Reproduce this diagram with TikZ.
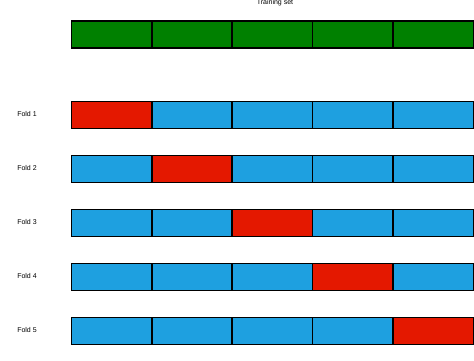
\documentclass[tikz,border=0pt]{standalone}
\usepackage{fontspec}
\setmainfont{Liberation Sans}
\definecolor{cgreen}{RGB}{0,128,0}
\definecolor{cred}{RGB}{228,24,0}
\definecolor{cblue}{RGB}{30,160,224}
\begin{document}
\begin{tikzpicture}[x=1pt,y=-1pt,
  cell/.style={draw=black,line width=1.6pt,minimum width=80.4pt,minimum height=27pt,inner sep=0pt,anchor=north west},
  lbl/.style={font=\fontsize{7}{8}\selectfont,inner sep=0pt}]
\useasboundingbox (0,0) rectangle (474,361);
\node[lbl] (title) at (275,3) {Training set};
\foreach \i in {0,...,4}{
  \node[cell,fill=cgreen] (g\i) at ({70.5+80.4*\i},20.5) {};
}
\foreach \f/\y in {1/100.5,2/154.5,3/208.5,4/262.5,5/316.5}{
  \node[lbl] (fl\f) at (27,{\y+13.5}) {Fold \f};
  \foreach \i in {1,...,5}{
    \ifnum\i=\f
      \node[cell,fill=cred] (c\f\i) at ({70.5+80.4*(\i-1)},\y) {};
    \else
      \node[cell,fill=cblue] (c\f\i) at ({70.5+80.4*(\i-1)},\y) {};
    \fi
  }
}
\end{tikzpicture}
\end{document}
